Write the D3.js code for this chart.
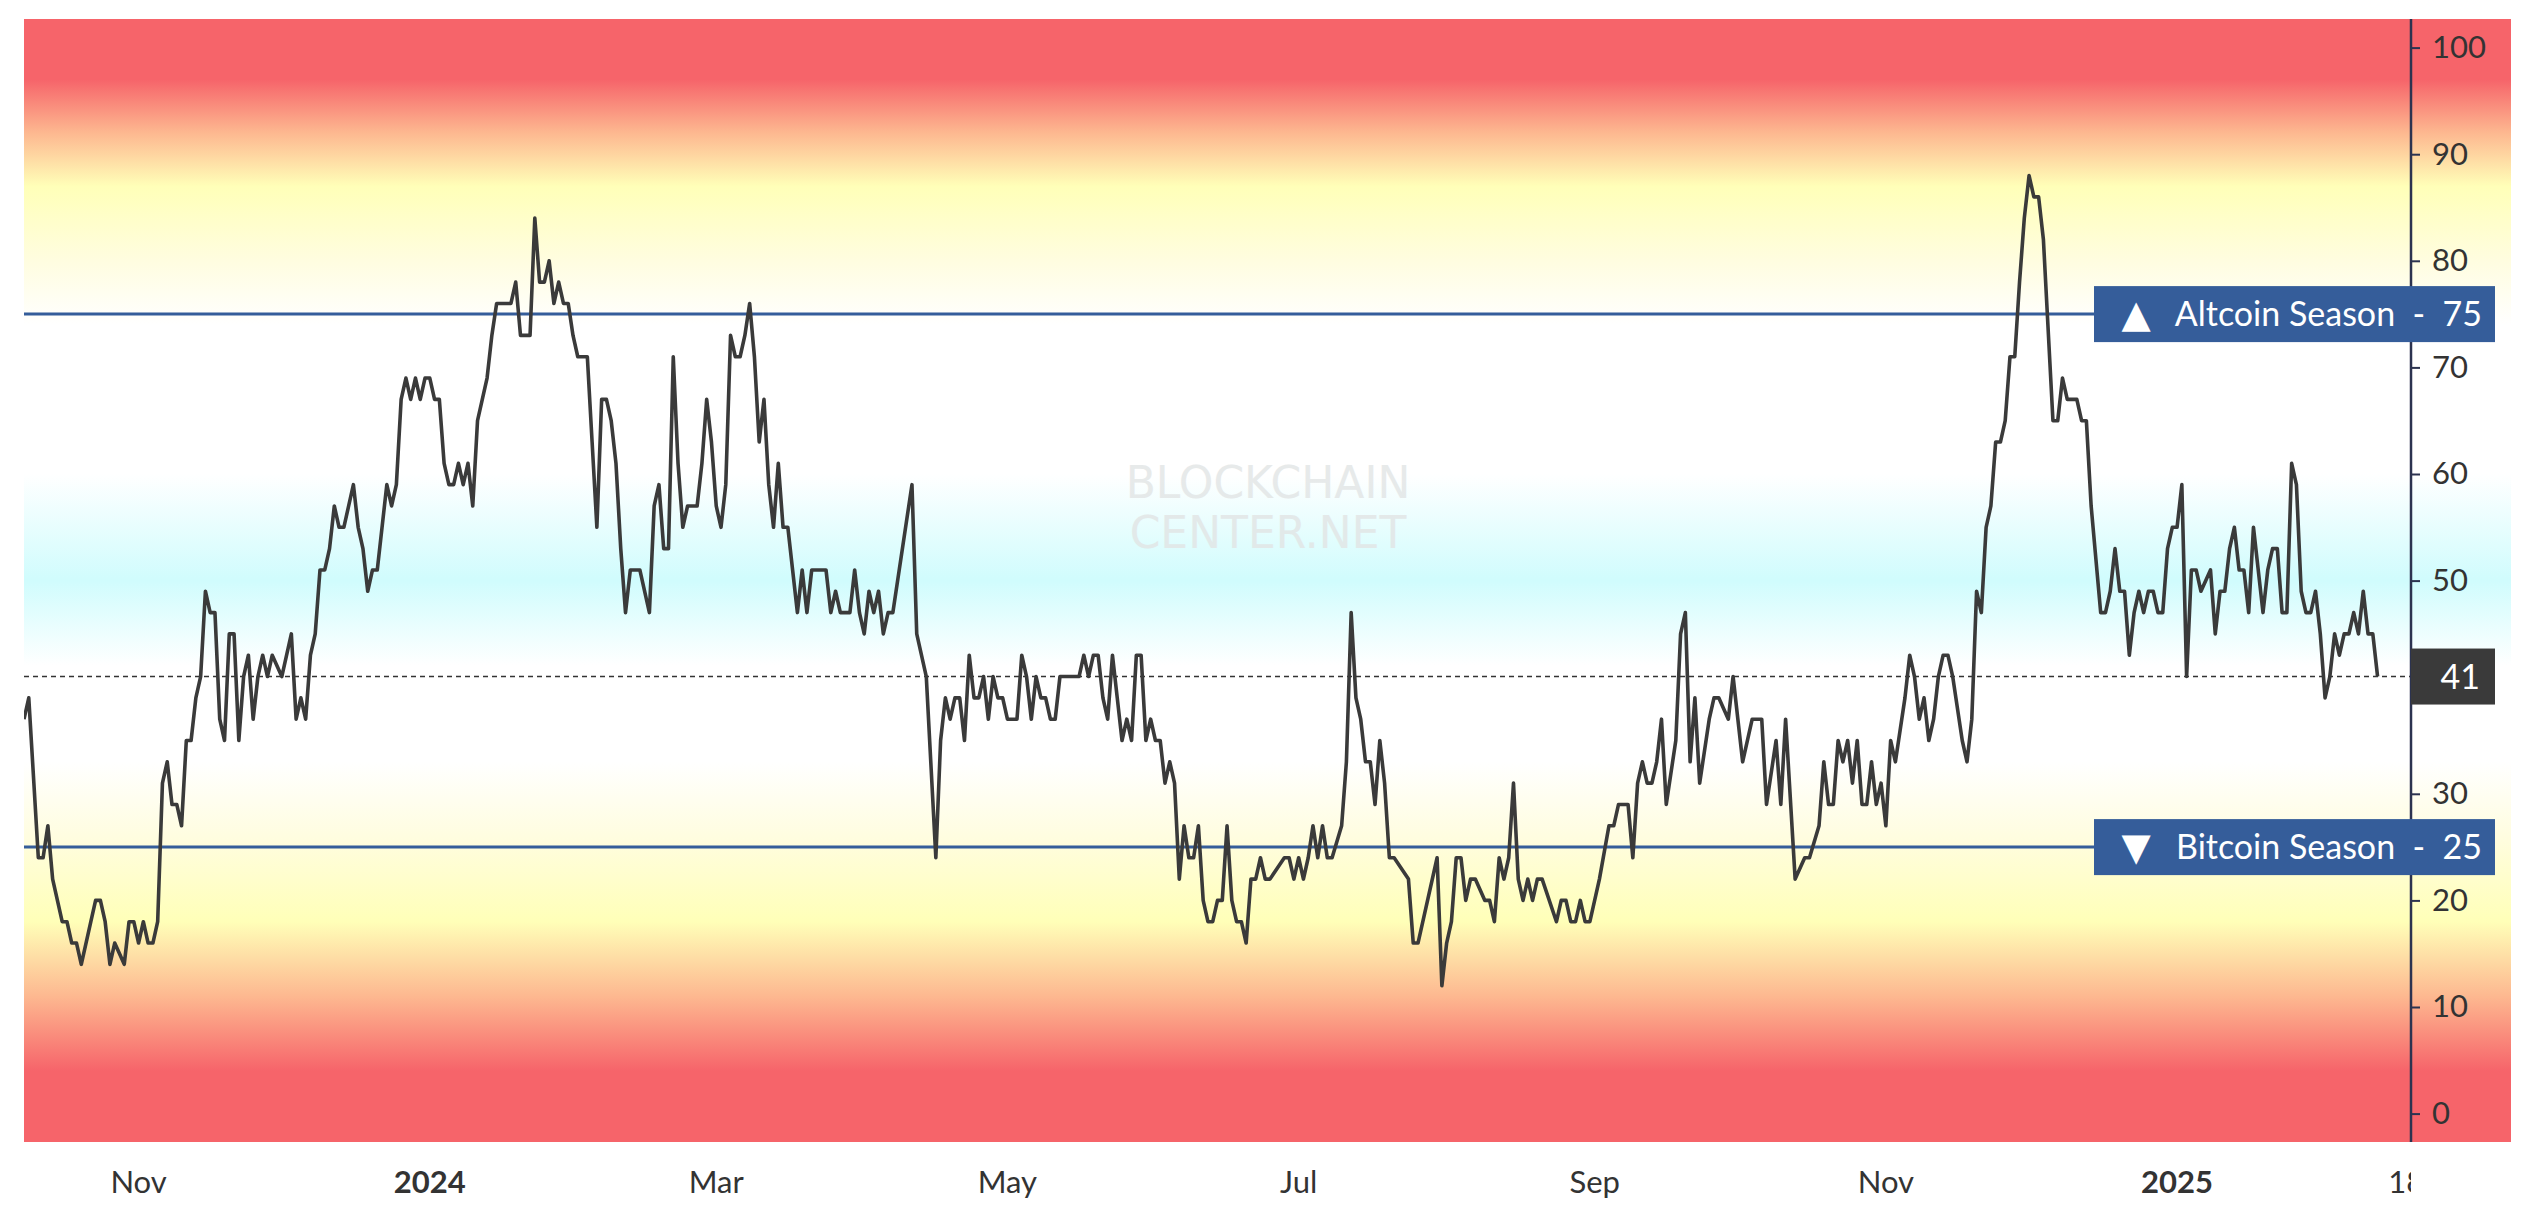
<!DOCTYPE html>
<html><head><meta charset="utf-8">
<script src="https://cdn.jsdelivr.net/npm/d3@7"></script>
<style>html,body{margin:0;padding:0;background:#fff;}svg{display:block;}</style>
</head><body>
<svg id="c" width="2534" height="1216"></svg>
<script>
const startDate = "2023-10-08";
const dayOffsets = [0,1,3,4,5,6,8,9,10,11,12,14,15,16,17,18,19,21,22,23,24,25,26,27,28,29,30,31,32,33,34,35,36,37,38,39,40,41,42,43,44,45,46,47,48,49,50,51,52,54,56,57,58,59,60,61,62,63,64,65,66,67,69,70,71,72,73,74,76,77,78,79,80,81,82,83,84,85,86,87,88,89,90,91,92,93,94,95,96,97,98,99,102,103,104,106,107,108,109,110,111,112,113,114,115,116,118,119,120,121,122,123,124,125,126,127,128,129,131,132,133,134,135,136,137,138,139,141,142,143,144,145,146,147,148,149,150,151,152,153,154,155,156,157,158,159,160,161,162,163,164,165,168,169,170,171,173,174,175,176,177,178,179,180,181,182,186,187,189,191,192,193,194,195,196,197,198,199,200,201,202,203,204,205,206,208,209,210,211,212,213,214,215,216,217,221,222,223,224,225,226,227,228,229,230,231,232,233,234,235,236,237,238,239,240,241,242,243,244,245,246,247,248,249,250,251,252,253,254,255,256,257,258,259,260,261,264,265,266,267,268,269,270,271,272,273,274,276,277,278,279,280,281,282,283,284,285,286,287,290,291,292,296,297,298,299,300,301,302,303,304,306,307,308,309,310,311,312,313,314,315,316,317,318,321,322,323,324,325,326,327,328,330,332,333,334,336,337,338,339,340,341,342,343,344,346,347,348,349,350,351,353,354,355,357,358,359,360,362,364,365,367,368,369,371,373,374,376,377,378,379,380,381,382,383,384,385,386,387,388,389,390,391,392,394,395,396,397,398,399,400,401,402,403,404,406,407,408,409,410,411,412,413,414,415,416,417,418,419,420,421,422,423,425,426,427,428,430,431,432,433,435,436,437,438,439,440,441,442,443,444,445,446,447,448,449,450,451,452,453,454,455,456,458,459,460,461,462,463,464,465,466,467,469,470,471,472,473,474,475,476,477,478,479,480,481,482,483,484,485,486,487,488,489,490,491,492,493,494,495,496,498,500];
const indexValues = [37,39,24,24,27,22,18,18,16,16,14,18,20,20,18,14,16,14,18,18,16,18,16,16,18,31,33,29,29,27,35,35,39,41,49,47,47,37,35,45,45,35,41,43,37,41,43,41,43,41,45,37,39,37,43,45,51,51,53,57,55,55,59,55,53,49,51,51,59,57,59,67,69,67,69,67,69,69,67,67,61,59,59,61,59,61,57,65,67,69,73,76,76,78,73,73,84,78,78,80,76,78,76,76,73,71,71,63,55,67,67,65,61,53,47,51,51,51,47,57,59,53,53,71,61,55,57,57,61,67,63,57,55,59,73,71,71,73,76,71,63,67,59,55,61,55,55,51,47,51,47,51,51,47,49,47,47,51,47,45,49,47,49,45,47,47,59,45,41,24,35,39,37,39,39,35,43,39,39,41,37,41,39,39,37,37,43,41,37,41,39,39,37,37,41,41,43,41,43,43,39,37,43,39,35,37,35,43,43,35,37,35,35,31,33,31,22,27,24,24,27,20,18,18,20,20,27,20,18,18,16,22,22,24,22,22,24,24,22,24,22,24,27,24,27,24,24,27,33,47,39,37,33,33,29,35,31,24,24,22,16,16,24,12,16,18,24,24,20,22,22,20,20,18,24,22,24,31,22,20,22,20,22,22,18,20,20,18,18,20,18,18,22,27,27,29,29,24,31,33,31,31,33,37,29,35,45,47,33,39,31,37,39,39,37,41,37,33,37,37,29,35,29,37,22,24,24,27,33,29,29,35,33,35,31,35,29,29,33,29,31,27,35,33,39,43,41,37,39,35,37,41,43,43,41,35,33,37,49,47,55,57,63,63,65,71,71,78,84,88,86,86,82,65,65,69,67,67,65,65,57,47,47,49,53,49,49,43,47,49,47,49,49,47,47,53,55,55,59,41,51,51,49,51,45,49,49,53,55,51,51,47,55,47,51,53,53,47,47,61,59,49,47,47,49,45,39,41,45,43,45,45,47,45,49,45,45,41];
const yTicks = [0,10,20,30,50,60,70,80,90,100];
const xTickDates = ["2023-11-01","2024-01-01","2024-03-01","2024-05-01","2024-07-01","2024-09-01","2024-11-01","2025-01-01","2025-02-18"];
const xTickLabels = ["Nov","2024","Mar","May","Jul","Sep","Nov","2025","18"];
const boldTicks = ["2024","2025"];
const thresholds = [{v:75,mark:"▲",label:"Altcoin Season  -  75"},{v:25,mark:"▼",label:"Bitcoin Season  -  25"}];
const currentValue = 41;

const svg = d3.select("#c");
const L = 24, R = 2411, T = 19, B = 1142, BGR = 2511;
const parse = d3.timeParse("%Y-%m-%d");
const d0 = parse(startDate);
const data = dayOffsets.map((d,i)=>({date:d3.timeDay.offset(d0,d), v:indexValues[i]}));
const x = d3.scaleTime().domain([d0, d3.timeDay.offset(d0,500)]).range([L,R]);
const y = d3.scaleLinear().domain([0,100]).range([1113.6,47.6]);
const font = "Lato, 'Open Sans', sans-serif";

const defs = svg.append("defs");
const g = defs.append("linearGradient").attr("id","bg").attr("gradientUnits","userSpaceOnUse")
  .attr("x1",0).attr("x2",0).attr("y1",y(100)).attr("y2",y(0));
[[103,"#f6646a"],[97,"#f6646a"],[92,"#fdb890"],[87,"#ffffb8"],[80,"#fffde0"],[74,"#ffffff"],[60,"#ffffff"],[50,"#d0fcfd"],[42,"#ffffff"],[33,"#ffffff"],[26,"#fffde0"],[18,"#ffffb8"],[11,"#fdb890"],[4,"#f6646a"],[-5,"#f6646a"]]
 .forEach(([v,c])=>g.append("stop").attr("offset",(y(v)-y(100))/(y(0)-y(100))).attr("stop-color",c));
defs.append("clipPath").attr("id","plot").append("rect").attr("x",L).attr("y",T).attr("width",R-L).attr("height",B-T);
defs.append("clipPath").attr("id","xl").append("rect").attr("x",0).attr("y",B).attr("width",R).attr("height",1216-B);

svg.append("rect").attr("x",L).attr("y",T).attr("width",BGR-L).attr("height",B-T).attr("fill","url(#bg)");

// watermark
const wm = svg.append("g").attr("fill","#e2e5e5").attr("opacity",0.8).attr("font-family","'DejaVu Sans', sans-serif").attr("font-size",44).attr("text-anchor","middle");
wm.append("text").attr("x",1268).attr("y",498).text("BLOCKCHAIN");
wm.append("text").attr("x",1268).attr("y",548).text("CENTER.NET");

// current value dashed line
svg.append("line").attr("x1",L).attr("x2",R).attr("y1",y(currentValue)).attr("y2",y(currentValue))
  .attr("stroke","#333").attr("stroke-width",1.5).attr("stroke-dasharray","5,4");

thresholds.forEach(t=>{
  svg.append("line").attr("x1",L).attr("x2",R).attr("y1",y(t.v)).attr("y2",y(t.v)).attr("stroke","#355d9a").attr("stroke-width",3);
});

svg.append("path").datum(data).attr("clip-path","url(#plot)")
  .attr("d", d3.line().x(d=>x(d.date)).y(d=>y(d.v)))
  .attr("fill","none").attr("stroke","#3a3a3a").attr("stroke-width",3.6).attr("stroke-linejoin","round");

const ax = svg.append("g").attr("transform",`translate(${R},0)`)
  .call(d3.axisRight(y).tickValues(yTicks).tickSize(9).tickPadding(12));
ax.select(".domain").attr("d",`M0,${T}V${B}`).attr("stroke","#2c3350").attr("stroke-width",2.5);
ax.selectAll(".tick line").attr("stroke","#2c3350").attr("stroke-width",2);
ax.selectAll(".tick text").attr("font-family",font).attr("font-size",31).attr("fill","#333");

thresholds.forEach(t=>{
  const gy = y(t.v);
  svg.append("rect").attr("x",2094).attr("y",gy-28).attr("width",401).attr("height",56).attr("fill","#355d9a");
  svg.append("text").attr("x",2136).attr("y",gy+13).attr("text-anchor","middle").attr("fill","#fff")
    .attr("font-family","'DejaVu Sans', sans-serif").attr("font-size",38).text(t.mark);
  svg.append("text").attr("x",2482).attr("y",gy+12).attr("text-anchor","end").attr("fill","#fff")
    .attr("font-family",font).attr("font-size",34).style("white-space","pre").text(t.label);
});
svg.append("rect").attr("x",R).attr("y",y(currentValue)-28).attr("width",84).attr("height",56).attr("fill","#3a3a3a");
svg.append("text").attr("x",2480).attr("y",y(currentValue)+12).attr("text-anchor","end").attr("fill","#fff")
  .attr("font-family",font).attr("font-size",34).text(currentValue);

const xl = svg.append("g").attr("clip-path","url(#xl)");
xTickDates.forEach((d,i)=>{
  xl.append("text").attr("x",x(parse(d))).attr("y",1193).attr("text-anchor","middle")
    .attr("font-family",font).attr("font-size",31).attr("fill","#333")
    .attr("font-weight",boldTicks.includes(xTickLabels[i])?"bold":"normal").text(xTickLabels[i]);
});
</script>
</body></html>
